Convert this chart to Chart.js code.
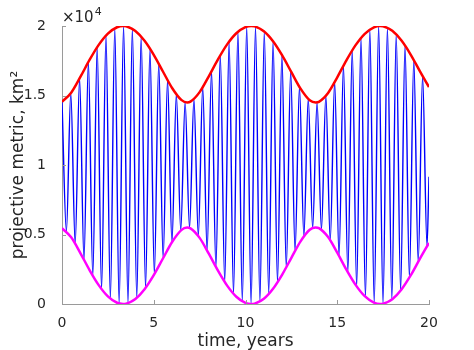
<!DOCTYPE html>
<html>
<head>
<meta charset="utf-8">
<script src="https://cdn.jsdelivr.net/npm/chart.js@4.4.1/dist/chart.umd.min.js"></script>
<style>
  html, body { margin: 0; background: #fff; }
  #wrap { width: 474px; height: 350px; }
</style>
</head>
<body>
<div id="wrap"><canvas id="chart"></canvas></div>
<script>
// Envelopes, every half year plus their crests and dips
const years = [0, 0.5, 1, 1.5, 2, 2.5, 3, 3.33, 3.5, 4, 4.5, 5, 5.5, 6, 6.5, 6.82, 7, 7.5, 8, 8.5, 9, 9.5,
  10, 10.31, 10.5, 11, 11.5, 12, 12.5, 13, 13.5, 13.825, 14, 14.5, 15, 15.5, 16, 16.5, 17, 17.34, 17.5,
  18, 18.5, 19, 19.5, 20];
const upper = [14550, 15204, 16332, 17556, 18641, 19453, 19910, 20000, 19975, 19641, 18936, 17925, 16727, 15538,
  14682, 14500, 14560, 15242, 16382, 17603, 18680, 19479, 19921, 20000, 19970, 19620, 18901, 17880, 16678,
  15494, 14659, 14500, 14545, 15186, 16308, 17532, 18622, 19440, 19905, 20000, 19978, 19651, 18953, 17947,
  16752, 15603];
const lower = [5450, 4796, 3668, 2444, 1359, 547, 90, 0, 25, 359, 1064, 2075, 3273, 4462,
  5318, 5500, 5440, 4758, 3618, 2397, 1320, 521, 79, 0, 30, 380, 1099, 2120, 3322,
  4506, 5341, 5500, 5455, 4814, 3692, 2468, 1378, 560, 95, 0, 22, 349, 1047, 2053,
  3248, 4397];

// Metric: turning points of the oscillation (peaks and troughs), plus the last sample
const metricT = [0, 0.240, 0.479, 0.719, 0.959, 1.198, 1.438, 1.678, 1.917, 2.157,
  2.397, 2.636, 2.876, 3.115, 3.355, 3.595, 3.834, 4.074, 4.314, 4.553,
  4.793, 5.033, 5.272, 5.512, 5.752, 5.991, 6.231, 6.471, 6.710, 6.950,
  7.190, 7.429, 7.669, 7.908, 8.148, 8.388, 8.627, 8.867, 9.107, 9.346,
  9.586, 9.826, 10.065, 10.305, 10.545, 10.784, 11.024, 11.264, 11.503, 11.743,
  11.983, 12.222, 12.462, 12.702, 12.941, 13.181, 13.420, 13.660, 13.900, 14.139,
  14.379, 14.619, 14.858, 15.098, 15.338, 15.577, 15.817, 16.057, 16.296, 16.536,
  16.776, 17.015, 17.255, 17.494, 17.734, 17.974, 18.213, 18.453, 18.693, 18.932,
  19.172, 19.412, 19.651, 19.891, 20];
const metric = [14550, 5224, 15167, 4331, 16232, 3179, 17408, 2034, 18477, 1070,
  19312, 384, 19833, 38, 19999, 59, 19796, 442, 19238, 1158,
  18374, 2149, 17287, 3303, 16109, 4443, 15070, 5285, 14525, 5465,
  14738, 4892, 15601, 3844, 16747, 2664, 17896, 1585, 18878, 732,
  19582, 189, 19950, 0, 19954, 182, 19593, 718, 18896, 1564,
  17918, 2640, 16772, 3819, 15623, 4873, 14750, 5460, 14505, 5352,
  14971, 4572, 15966, 3451, 17146, 2288, 18248, 1269, 19145, 513,
  19743, 87, 19994, 21, 19874, 323, 19396, 966, 18596, 1901,
  17551, 3031, 16379, 4195, 9150];

const xTicks = [0, 5, 10, 15, 20];
const yTicks = [0, 5000, 10000, 15000, 20000];
const yExp = 4;

const FONT = "DejaVu Sans";
const TXT = "#262626";
const AXIS = "#9a9a9a";

const pts = (xs, ys) => xs.map((x, i) => ({ x: x, y: ys[i] }));

// MATLAB-like inward tick marks and the exponent label above the y axis
const axisDecor = {
  id: "axisDecor",
  afterDraw(chart) {
    const { ctx, chartArea: a, scales: { x, y } } = chart;
    ctx.save();
    ctx.strokeStyle = AXIS;
    ctx.lineWidth = 1;
    ctx.beginPath();
    xTicks.forEach(v => {
      const px = Math.round(x.getPixelForValue(v)) + 0.5;
      ctx.moveTo(px, a.bottom);
      ctx.lineTo(px, a.bottom - 4);
    });
    yTicks.forEach(v => {
      const py = Math.round(y.getPixelForValue(v)) + 0.5;
      ctx.moveTo(a.left, py);
      ctx.lineTo(a.left + 4, py);
    });
    ctx.stroke();

    ctx.fillStyle = TXT;
    ctx.textBaseline = "alphabetic";
    ctx.textAlign = "left";
    ctx.font = "15px '" + FONT + "'";
    const base = "\u00d710";
    ctx.fillText(base, a.left, a.top - 4);
    const w = ctx.measureText(base).width;
    ctx.font = "11px '" + FONT + "'";
    ctx.fillText(String(yExp), a.left + w + 1, a.top - 11);
    ctx.restore();
  }
};

new Chart(document.getElementById("chart"), {
  type: "line",
  data: {
    datasets: [
      {
        data: pts(metricT, metric),
        borderColor: "#0000ff",
        borderWidth: 1.4,
        pointRadius: 0,
        cubicInterpolationMode: "monotone",
        order: 3
      },
      {
        data: pts(years, upper),
        borderColor: "#ff0000",
        borderWidth: 2.5,
        pointRadius: 0,
        cubicInterpolationMode: "monotone",
        order: 1
      },
      {
        data: pts(years, lower),
        borderColor: "#ff00ff",
        borderWidth: 2.5,
        pointRadius: 0,
        cubicInterpolationMode: "monotone",
        order: 2
      }
    ]
  },
  options: {
    responsive: true,
    maintainAspectRatio: false,
    animation: false,
    layout: { padding: { left: 0, right: 45, top: 26, bottom: 0 } },
    plugins: { legend: { display: false }, tooltip: { enabled: false } },
    scales: {
      x: {
        type: "linear",
        min: 0,
        max: 20,
        afterBuildTicks: s => { s.ticks = xTicks.map(v => ({ value: v })); },
        afterFit: s => { s.height = 46; },
        ticks: { color: TXT, font: { family: FONT, size: 14 }, padding: 3, maxRotation: 0 },
        grid: { display: false },
        border: { color: AXIS, width: 1 },
        title: {
          display: true, text: "time, years", color: TXT,
          font: { family: FONT, size: 17 }, padding: { top: 0, bottom: -2 }
        }
      },
      y: {
        min: 0,
        max: 20000,
        afterBuildTicks: s => { s.ticks = yTicks.map(v => ({ value: v })); },
        afterFit: s => { s.width = 62; },
        ticks: {
          color: TXT, font: { family: FONT, size: 14 }, padding: 8,
          callback: v => String(v / Math.pow(10, yExp))
        },
        grid: { display: false },
        border: { color: AXIS, width: 1 },
        title: {
          display: true, text: "projective metric, km\u00b2", color: TXT,
          font: { family: FONT, size: 17 }, padding: { top: 8, bottom: 0 }
        }
      }
    }
  },
  plugins: [axisDecor]
});
</script>
</body>
</html>
